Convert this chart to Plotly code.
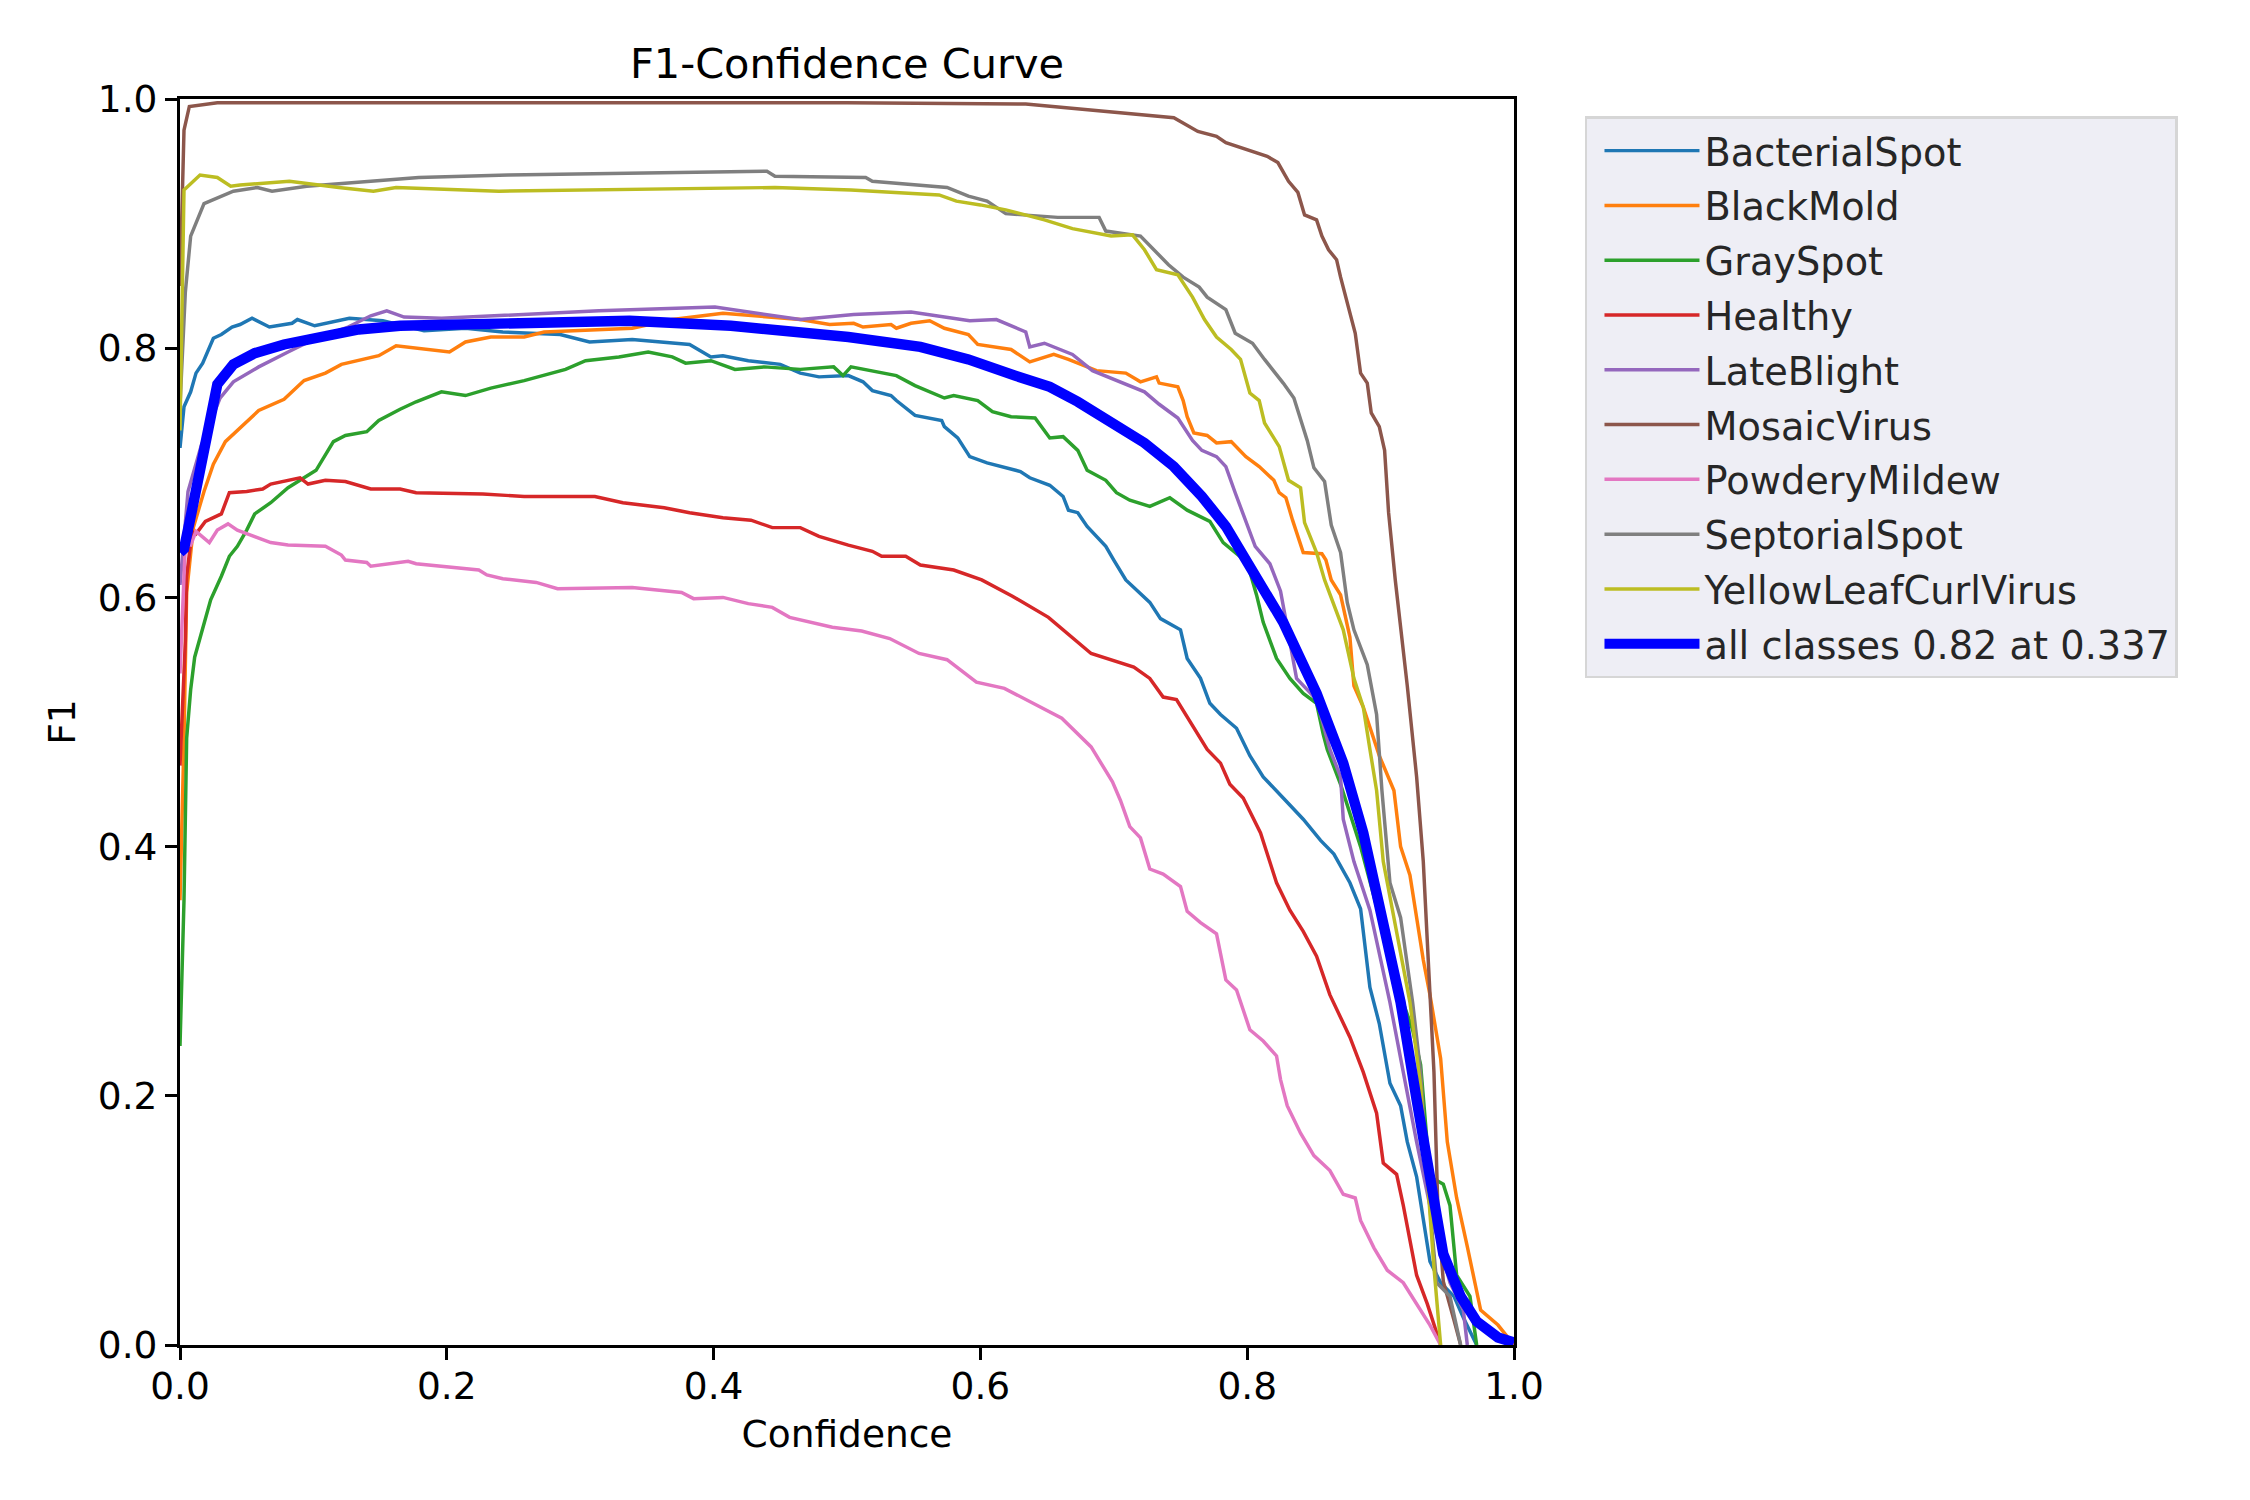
import plotly.graph_objects as go

# ---------------- data ----------------
bacterial_x = [0, .003, .008, .012, .017, .025, .031, .039, .045, .049, .054, .067, .084, .088, .101, .127, .152, .183, .214, .242, .285, .307, .339, .382, .398, .407, .426, .450, .465, .479, .501, .512, .519, .533, .537, .551, .571, .573, .583, .592, .605, .630, .637, .652, .662, .666, .673, .680, .694, .700, .709, .727, .735, .750, .755, .765, .772, .780, .792, .802, .812, .827, .842, .855, .865, .877, .885, .892, .899, .907, .915, .920, .927, .932, .937, .945, .955, .962, .972]
bacterial_y = [.72, .753, .765, .780, .788, .808, .811, .817, .819, .821, .824, .817, .820, .823, .818, .824, .822, .814, .816, .813, .811, .805, .807, .803, .793, .794, .790, .787, .780, .777, .778, .773, .766, .762, .758, .746, .742, .737, .728, .713, .708, .701, .696, .690, .681, .670, .668, .657, .641, .630, .614, .596, .583, .574, .551, .535, .515, .506, .495, .473, .456, .439, .422, .405, .394, .371, .350, .287, .258, .210, .192, .163, .135, .101, .067, .050, .039, .022, 0]

blackmold_x = [0, .003, .005, .010, .018, .025, .034, .046, .059, .078, .093, .109, .121, .149, .162, .202, .214, .233, .258, .273, .339, .369, .407, .465, .487, .505, .512, .533, .537, .548, .562, .573, .591, .598, .623, .637, .655, .666, .687, .709, .720, .732, .734, .748, .752, .755, .760, .770, .777, .788, .799, .809, .820, .824, .829, .834, .842, .856, .859, .863, .870, .877, .880, .887, .899, .910, .915, .922, .927, .932, .937, .945, .950, .957, .965, .975, .988, 1.0]
blackmold_y = [.357, .487, .604, .656, .685, .707, .725, .737, .750, .759, .774, .780, .787, .794, .802, .797, .805, .809, .809, .813, .816, .823, .828, .823, .819, .820, .817, .819, .816, .820, .822, .816, .811, .803, .799, .789, .795, .791, .782, .780, .773, .777, .772, .769, .758, .745, .732, .730, .724, .725, .713, .705, .694, .684, .680, .662, .636, .635, .630, .614, .602, .568, .529, .512, .473, .445, .400, .377, .343, .309, .281, .230, .163, .118, .079, .028, .016, 0]

grayspot_x = [0, .003, .005, .008, .011, .018, .023, .031, .037, .043, .050, .056, .068, .081, .090, .102, .115, .124, .140, .149, .165, .177, .196, .214, .233, .258, .289, .304, .329, .351, .369, .379, .398, .416, .438, .465, .490, .497, .503, .537, .551, .562, .573, .580, .598, .609, .623, .641, .652, .662, .673, .680, .694, .702, .712, .727, .742, .755, .772, .782, .800, .807, .812, .822, .832, .842, .852, .857, .860, .870, .885, .900, .912, .924, .930, .937, .947, .952, .957, .967, .972]
grayspot_y = [.240, .357, .487, .526, .552, .578, .598, .617, .633, .641, .654, .667, .676, .688, .694, .702, .725, .730, .733, .742, .751, .757, .765, .762, .768, .774, .783, .790, .793, .797, .793, .788, .790, .783, .785, .783, .785, .778, .785, .778, .770, .765, .760, .762, .758, .749, .745, .744, .728, .729, .718, .702, .694, .684, .678, .673, .680, .670, .661, .644, .628, .602, .580, .551, .535, .523, .515, .490, .478, .450, .400, .340, .290, .253, .225, .135, .129, .112, .056, .039, 0]

healthy_x = [0, .004, .005, .009, .012, .019, .031, .037, .050, .062, .068, .081, .090, .096, .109, .124, .143, .165, .177, .227, .258, .311, .332, .363, .382, .407, .428, .444, .465, .479, .501, .519, .526, .544, .555, .580, .601, .624, .651, .683, .715, .727, .737, .747, .760, .770, .780, .787, .797, .802, .810, .822, .832, .842, .852, .862, .877, .887, .897, .902, .912, .917, .922, .927, .935, .942, .945]
healthy_y = [.465, .565, .617, .653, .651, .661, .667, .684, .685, .687, .691, .694, .696, .691, .694, .693, .687, .687, .684, .683, .681, .681, .676, .672, .668, .664, .662, .656, .656, .649, .642, .637, .633, .633, .626, .622, .614, .601, .584, .555, .544, .535, .520, .518, .495, .478, .467, .450, .439, .428, .411, .371, .349, .332, .312, .281, .247, .219, .186, .146, .137, .112, .084, .056, .033, .011, 0]

lateblight_x = [0, .006, .016, .030, .040, .059, .081, .102, .126, .143, .155, .168, .196, .314, .401, .465, .505, .548, .592, .612, .634, .637, .648, .669, .684, .702, .723, .734, .748, .759, .766, .777, .784, .791, .799, .806, .817, .825, .837, .852, .862, .870, .872, .880, .892, .899, .907, .917, .927, .940, .952, .962, .965]
lateblight_y = [.61, .685, .722, .760, .773, .785, .797, .808, .817, .826, .830, .825, .824, .830, .833, .823, .827, .829, .822, .823, .813, .801, .804, .795, .782, .774, .765, .755, .744, .726, .718, .713, .705, .684, .660, .641, .627, .605, .535, .518, .478, .456, .422, .388, .349, .315, .275, .219, .163, .096, .050, .028, 0]

mosaic_x = [0, .003, .007, .028, .10, .30, .50, .634, .698, .745, .763, .777, .784, .815, .823, .831, .838, .843, .852, .856, .861, .867, .870, .876, .881, .885, .890, .893, .899, .903, .906, .911, .920, .927, .932, .936, .940, .943, .947, .955, .960]
mosaic_y = [.85, .975, .994, .997, .997, .997, .997, .996, .990, .985, .974, .970, .965, .954, .949, .934, .925, .907, .903, .890, .879, .871, .857, .833, .812, .780, .772, .748, .737, .718, .668, .614, .529, .456, .388, .303, .219, .107, .051, .020, 0]

powdery_x = [0, .003, .004, .008, .012, .022, .028, .036, .043, .053, .068, .081, .109, .121, .124, .140, .143, .171, .177, .224, .230, .242, .267, .283, .320, .339, .376, .385, .407, .426, .444, .457, .489, .511, .532, .554, .575, .597, .618, .640, .661, .683, .699, .705, .712, .720, .727, .737, .750, .755, .765, .777, .784, .792, .802, .812, .822, .825, .830, .840, .850, .862, .872, .881, .885, .895, .905, .917, .927, .937, .945]
powdery_y = [.539, .624, .643, .642, .653, .644, .654, .659, .654, .650, .644, .642, .641, .634, .630, .628, .625, .629, .627, .622, .618, .615, .612, .607, .608, .608, .604, .599, .600, .595, .592, .584, .576, .573, .567, .555, .550, .532, .527, .515, .503, .480, .452, .437, .416, .407, .382, .378, .368, .348, .339, .330, .293, .285, .253, .244, .232, .213, .192, .170, .152, .140, .121, .118, .100, .078, .060, .050, .033, .016, 0]

septorial_x = [0, .004, .008, .018, .040, .058, .069, .095, .179, .246, .440, .446, .514, .519, .575, .591, .605, .619, .658, .689, .694, .720, .741, .752, .764, .770, .784, .791, .804, .813, .827, .835, .845, .850, .858, .863, .870, .875, .880, .890, .897, .901, .907, .915, .924, .930, .935, .942, .952, .957, .960]
septorial_y = [.754, .845, .890, .916, .926, .929, .926, .930, .937, .939, .942, .938, .937, .934, .929, .922, .918, .908, .905, .905, .894, .890, .867, .857, .849, .841, .831, .812, .804, .791, .772, .760, .726, .704, .693, .658, .636, .596, .574, .546, .506, .445, .371, .343, .275, .219, .135, .050, .039, .016, 0]

yellow_x = [0, .003, .007, .015, .028, .038, .045, .082, .119, .145, .162, .239, .446, .503, .569, .582, .600, .619, .648, .669, .698, .714, .723, .732, .748, .759, .768, .777, .788, .795, .802, .809, .813, .824, .831, .840, .843, .852, .858, .866, .872, .880, .887, .892, .897, .902, .912, .922, .930, .935, .940, .945]
yellow_y = [.734, .927, .931, .939, .937, .930, .931, .934, .929, .926, .929, .926, .929, .927, .923, .918, .915, .911, .903, .896, .890, .891, .879, .863, .859, .841, .823, .809, .799, .791, .764, .758, .740, .721, .694, .688, .660, .636, .614, .591, .574, .535, .512, .478, .445, .388, .332, .275, .208, .135, .062, 0]

all_x = [0, .003, .009, .019, .028, .040, .056, .078, .102, .134, .165, .227, .289, .337, .413, .465, .501, .555, .591, .626, .652, .673, .698, .723, .745, .766, .784, .802, .827, .852, .872, .887, .902, .915, .927, .937, .947, .960, .972, .988, 1.0]
all_y = [.636, .639, .670, .722, .771, .787, .796, .803, .809, .815, .818, .820, .821, .822, .818, .813, .809, .801, .791, .778, .769, .757, .740, .724, .705, .681, .657, .625, .580, .523, .467, .411, .343, .275, .197, .129, .073, .039, .019, .006, .002]

class_names = ["BacterialSpot", "BlackMold", "GraySpot", "Healthy", "LateBlight",
               "MosaicVirus", "PowderyMildew", "SeptorialSpot", "YellowLeafCurlVirus"]
class_x = [bacterial_x, blackmold_x, grayspot_x, healthy_x, lateblight_x,
           mosaic_x, powdery_x, septorial_x, yellow_x]
class_y = [bacterial_y, blackmold_y, grayspot_y, healthy_y, lateblight_y,
           mosaic_y, powdery_y, septorial_y, yellow_y]
all_label = "all classes 0.82 at 0.337"
x_ticks = [0.0, 0.2, 0.4, 0.6, 0.8, 1.0]
y_ticks = [0.0, 0.2, 0.4, 0.6, 0.8, 1.0]

# ---------------- styling ----------------
colors = ["#1f77b4", "#ff7f0e", "#2ca02c", "#d62728", "#9467bd",
          "#8c564b", "#e377c2", "#7f7f7f", "#bcbd22"]
FONT = "DejaVu Sans"
PT = 250 / 72.0
TXT = 37.5
LEG = 38.3
TITLE = 41.5

fig = go.Figure()
for name, xs, ys, c in zip(class_names, class_x, class_y, colors):
    fig.add_trace(go.Scatter(x=xs, y=ys, mode="lines", name=name, legendgroup=name,
                             line=dict(color=c, width=1.0 * PT)))
fig.add_trace(go.Scatter(x=all_x, y=all_y, mode="lines", name=all_label, legendgroup="all",
                         line=dict(color="#0000ff", width=3.0 * PT)))

axis_common = dict(range=[0, 1], tickmode="array", tickformat=".1f",
                   showline=True, mirror=True, linecolor="black", linewidth=0.8 * PT,
                   ticks="outside", ticklen=3.5 * PT, tickwidth=0.8 * PT, tickcolor="black",
                   showgrid=False, zeroline=False,
                   tickfont=dict(family=FONT, size=TXT, color="black"))

fig.update_xaxes(tickvals=x_ticks, ticklabelstandoff=-6,
                 title=dict(text="Confidence", font=dict(family=FONT, size=TXT, color="black"), standoff=14),
                 **axis_common)
fig.update_yaxes(tickvals=y_ticks,
                 title=dict(text="F1", font=dict(family=FONT, size=TXT, color="black"), standoff=11),
                 **axis_common)

fig.update_layout(
    width=2250, height=1500,
    margin=dict(l=180, r=736, t=99, b=155),
    plot_bgcolor="white", paper_bgcolor="white",
    font=dict(family=FONT, size=TXT, color="black"),
    title=dict(text="F1-Confidence Curve", x=0.5, xref="paper", xanchor="center",
               y=1.0, yref="paper", yanchor="bottom", pad=dict(b=21),
               font=dict(family=FONT, size=TITLE, color="black")),
    legend=dict(x=1.053, y=0.986, xanchor="left", yanchor="top",
                bgcolor="#EEEEF5", bordercolor="#D6D6D6", borderwidth=0.8 * PT,
                font=dict(family=FONT, size=LEG, color="#262626"),
                tracegroupgap=2, itemwidth=95, indentation=12),
    showlegend=True,
)

fig.write_html("out.html")
